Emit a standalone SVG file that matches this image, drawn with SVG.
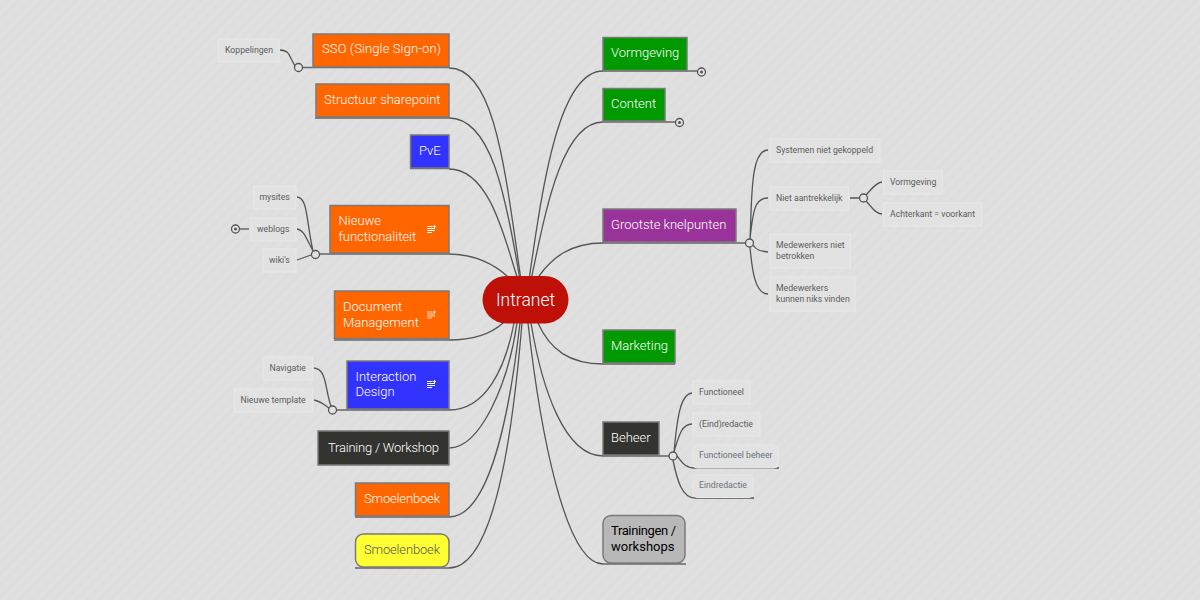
<svg xmlns="http://www.w3.org/2000/svg" width="1200" height="600" viewBox="0 0 1200 600">
<style>
text{font-family:"Roboto","Liberation Sans",sans-serif}
.m{font-size:13px;font-weight:300;fill:#fff}
.s{font-size:8.7px;fill:#5c5c5c}
.c{fill:none;stroke:#555;stroke-width:1.3}
.u{fill:none;stroke:#666;stroke-width:1.5}
.b{stroke:#7a7a7a;stroke-width:1.5}
.sb{fill:#e2e2e2;stroke:#e8e8e8;stroke-width:1}
.o{fill:#e2e2e2;stroke:#555;stroke-width:1.3}
.d{fill:#555}
.i{fill:#fff}
</style>
<defs>
<pattern id="bg" width="8" height="8" patternUnits="userSpaceOnUse" patternTransform="rotate(45)"><rect width="8" height="8" fill="#dedede"/><rect width="4" height="8" fill="#e0e0e0"/></pattern>
<g id="noteicon"><rect x="0" y="1" width="5.500" height="1"/><rect x="0" y="3" width="8" height="1"/><rect x="0" y="5" width="8" height="1"/><rect x="0" y="7" width="5" height="1"/><rect x="7" y="0" width="1" height="3"/><rect x="6" y="1" width="3" height="1"/></g>
</defs>
<rect width="1200" height="600" fill="url(#bg)"/>
<g id="connectors">
<path class="c" d="M449 68C495 68 505 170 521 280L525 300"/>
<path class="c" d="M449 118C490 118 505 190 520 280L525 300"/>
<path class="c" d="M449 169C490 169 505 240 518 280L525 300"/>
<path class="c" d="M449 254C475 254 495 265 507 276L525 300"/>
<path class="c" d="M449 340C475 340 492 333 503 323L525 300"/>
<path class="c" d="M449 410C485 410 505 370 514 323L525 300"/>
<path class="c" d="M449 448C480 448 508 385 517 323L525 300"/>
<path class="c" d="M449 517C490 517 510 410 520 323L525 300"/>
<path class="c" d="M449 568C495 568 513 430 522 323L525 300"/>
<path class="c" d="M603 71C558 71 542 190 529 280L525 300"/>
<path class="c" d="M603 122C560 122 544 220 531 280L525 300"/>
<path class="c" d="M603 243C570 243 552 258 539 276L525 300"/>
<path class="c" d="M603 364C570 364 550 350 538 323L525 300"/>
<path class="c" d="M603 456C565 456 542 390 531 323L525 300"/>
<path class="c" d="M603 564C565 564 540 430 528 323L525 300"/>
<path class="u" d="M303 67.500H449M315 118H449M410 168.500H449M311 254H449M334 340H449M337 410H449M355 517H449M355 568H449"/>
<path class="u" d="M603 71H697M603 122H676M603 243H745M603 364H675M603 456H669M603 564H686"/>
<path class="c" d="M295 66C288 54 290 51 280 50"/>
<path class="c" d="M313 251C306 220 308 198 297 197M313 251C306 238 304 230 297 229M311 255L297 260"/>
<path class="c" d="M240 229H249"/>
<path class="c" d="M331 406C325 390 327 369 314 368M329 408C323 404 320 401 314 400"/>
<path class="c" d="M750 239C752 200 750 150 768 150M750 239C753 210 755 198 768 198M753 245C756 250 760 251 768 252M750 247C752 270 755 294 768 294"/>
<path class="c" d="M850 198H860M866 195C871 190 875 183 882 182M866 201C871 206 875 214 882 214"/>
<path class="c" d="M674 452C677 420 680 394 692 393M674 452C679 435 682 424 692 424M677 456C682 462 685 468 695 468H779M673 460C677 480 682 498 695 498H754"/>
</g>
<g id="center"><rect x="482.500" y="276" width="86" height="47.500" rx="23.700" fill="#bf1007"/><text x="525.500" y="306" font-size="17.500" font-weight="300" fill="#fff" text-anchor="middle">Intranet</text></g>
<g id="n-sso"><rect class="b" x="313" y="34" width="136" height="33" fill="#f60"/><text class="m" x="322" y="53" textLength="119">SSO (Single Sign-on)</text></g>
<g id="n-struct"><rect class="b" x="316" y="84" width="133" height="33" fill="#f60"/><text class="m" x="324" y="104">Structuur sharepoint</text></g>
<g id="n-pve"><rect class="b" x="410.500" y="135" width="38.500" height="33" fill="#33f"/><text class="m" x="419" y="155">PvE</text></g>
<g id="n-nieuwe"><rect class="b" x="330" y="205.500" width="119" height="47.500" fill="#f60"/><text class="m" x="338.500" y="225">Nieuwe</text><text class="m" x="338.500" y="241">functionaliteit</text><use href="#noteicon" x="427" y="225" class="i"/></g>
<g id="n-doc"><rect class="b" x="334.500" y="291" width="114.500" height="47.500" fill="#f60"/><text class="m" x="343" y="311">Document</text><text class="m" x="343" y="327">Management</text><use href="#noteicon" x="427" y="310.500" fill="#ffd9bf"/></g>
<g id="n-inter"><rect class="b" x="347" y="361" width="102" height="48" fill="#33f"/><text class="m" x="355.500" y="381">Interaction</text><text class="m" x="355.500" y="396">Design</text><use href="#noteicon" x="427" y="380" class="i"/></g>
<g id="n-train"><rect class="b" x="318" y="431" width="131" height="34" fill="#333330"/><text class="m" x="328" y="452" textLength="111">Training / Workshop</text></g>
<g id="n-smoel1"><rect class="b" x="355.500" y="483" width="93.500" height="33" fill="#f60"/><text class="m" x="364" y="503" textLength="76">Smoelenboek</text></g>
<g id="n-smoel2"><rect class="b" x="355.500" y="534" width="93.500" height="33" rx="8" fill="#ff3"/><text class="m" x="364" y="554" textLength="76" style="fill:#555">Smoelenboek</text></g>
<g id="n-vorm"><rect class="b" x="603" y="37.500" width="84" height="33" fill="#090"/><text class="m" x="611" y="57">Vormgeving</text></g>
<g id="n-content"><rect class="b" x="603" y="88.500" width="62" height="32.500" fill="#090"/><text class="m" x="611" y="108">Content</text></g>
<g id="n-groot"><rect class="b" x="603" y="209" width="133" height="33" fill="#939"/><text class="m" x="611" y="229">Grootste knelpunten</text></g>
<g id="n-market"><rect class="b" x="603" y="330" width="72" height="33" fill="#090"/><text class="m" x="611" y="350">Marketing</text></g>
<g id="n-beheer"><rect class="b" x="603" y="422" width="56" height="33" fill="#333330"/><text class="m" x="611" y="442">Beheer</text></g>
<g id="n-trainingen"><rect class="b" x="603" y="515.500" width="82" height="47.500" rx="8" fill="#b8b8b8"/><text class="m" x="611" y="535" textLength="65" style="fill:#000;font-weight:400">Trainingen /</text><text class="m" x="611" y="551" style="fill:#000;font-weight:400">workshops</text></g>
<g id="s-kop"><rect class="sb" x="218.500" y="39" width="60.500" height="23"/><text class="s" x="225" y="53">Koppelingen</text></g>
<g id="s-mysites"><rect class="sb" x="253.500" y="186" width="42.500" height="23"/><text class="s" x="259.500" y="200">mysites</text></g>
<g id="s-weblogs"><rect class="sb" x="251" y="218" width="45" height="23"/><text class="s" x="257" y="232">weblogs</text></g>
<g id="s-wiki"><rect class="sb" x="263" y="249" width="33" height="23"/><text class="s" x="269" y="263">wiki's</text></g>
<g id="s-nav"><rect class="sb" x="263" y="357" width="49.500" height="23"/><text class="s" x="269.500" y="371">Navigatie</text></g>
<g id="s-templ"><rect class="sb" x="234.500" y="389" width="78" height="23"/><text class="s" x="240.500" y="403">Nieuwe template</text></g>
<g id="s-sys"><rect class="sb" x="770" y="139" width="110" height="23"/><text class="s" x="776" y="153">Systemen niet gekoppeld</text></g>
<g id="s-niet"><rect class="sb" x="770" y="187" width="78.500" height="23"/><text class="s" x="776" y="201">Niet aantrekkelijk</text></g>
<g id="s-vorm2"><rect class="sb" x="883.500" y="171" width="59" height="23"/><text class="s" x="890" y="185">Vormgeving</text></g>
<g id="s-acht"><rect class="sb" x="883.500" y="203" width="98" height="23"/><text class="s" x="890" y="217">Achterkant = voorkant</text></g>
<g id="s-med1"><rect class="sb" x="770" y="234" width="80.500" height="34"/><text class="s" x="776" y="248">Medewerkers niet</text><text class="s" x="776" y="259">betrokken</text></g>
<g id="s-med2"><rect class="sb" x="770" y="277" width="85" height="34"/><text class="s" x="776" y="291">Medewerkers</text><text class="s" x="776" y="302">kunnen niks vinden</text></g>
<g id="s-func"><rect class="sb" x="693" y="381" width="57" height="23"/><text class="s" x="699" y="395">Functioneel</text></g>
<g id="s-eind"><rect class="sb" x="693" y="413" width="67" height="23"/><text class="s" x="699" y="427">(Eind)redactie</text></g>
<g id="s-fb"><rect class="sb" x="693" y="445" width="85" height="23" rx="4"/><text class="s" x="699" y="458" style="fill:#6a7078">Functioneel beheer</text></g>
<g id="s-er"><rect class="sb" x="693" y="475" width="60" height="22.500" rx="4"/><text class="s" x="699" y="488" style="fill:#6a7078">Eindredactie</text></g>
<g id="toggles">
<circle class="o" cx="298.500" cy="67.500" r="4"/>
<circle class="o" cx="315.500" cy="254.500" r="4"/>
<circle class="o" cx="332.500" cy="410" r="4"/>
<circle class="o" cx="749.500" cy="243" r="4"/>
<circle class="o" cx="863.500" cy="198" r="4"/>
<circle class="o" cx="673" cy="456" r="4"/>
<circle class="o" cx="701.500" cy="72" r="4"/><circle class="d" cx="701.500" cy="72" r="1.500"/>
<circle class="o" cx="679.500" cy="122.500" r="4"/><circle class="d" cx="679.500" cy="122.500" r="1.500"/>
<circle class="o" cx="235.500" cy="229" r="4"/><circle class="d" cx="235.500" cy="229" r="1.500"/>
</g>
</svg>
